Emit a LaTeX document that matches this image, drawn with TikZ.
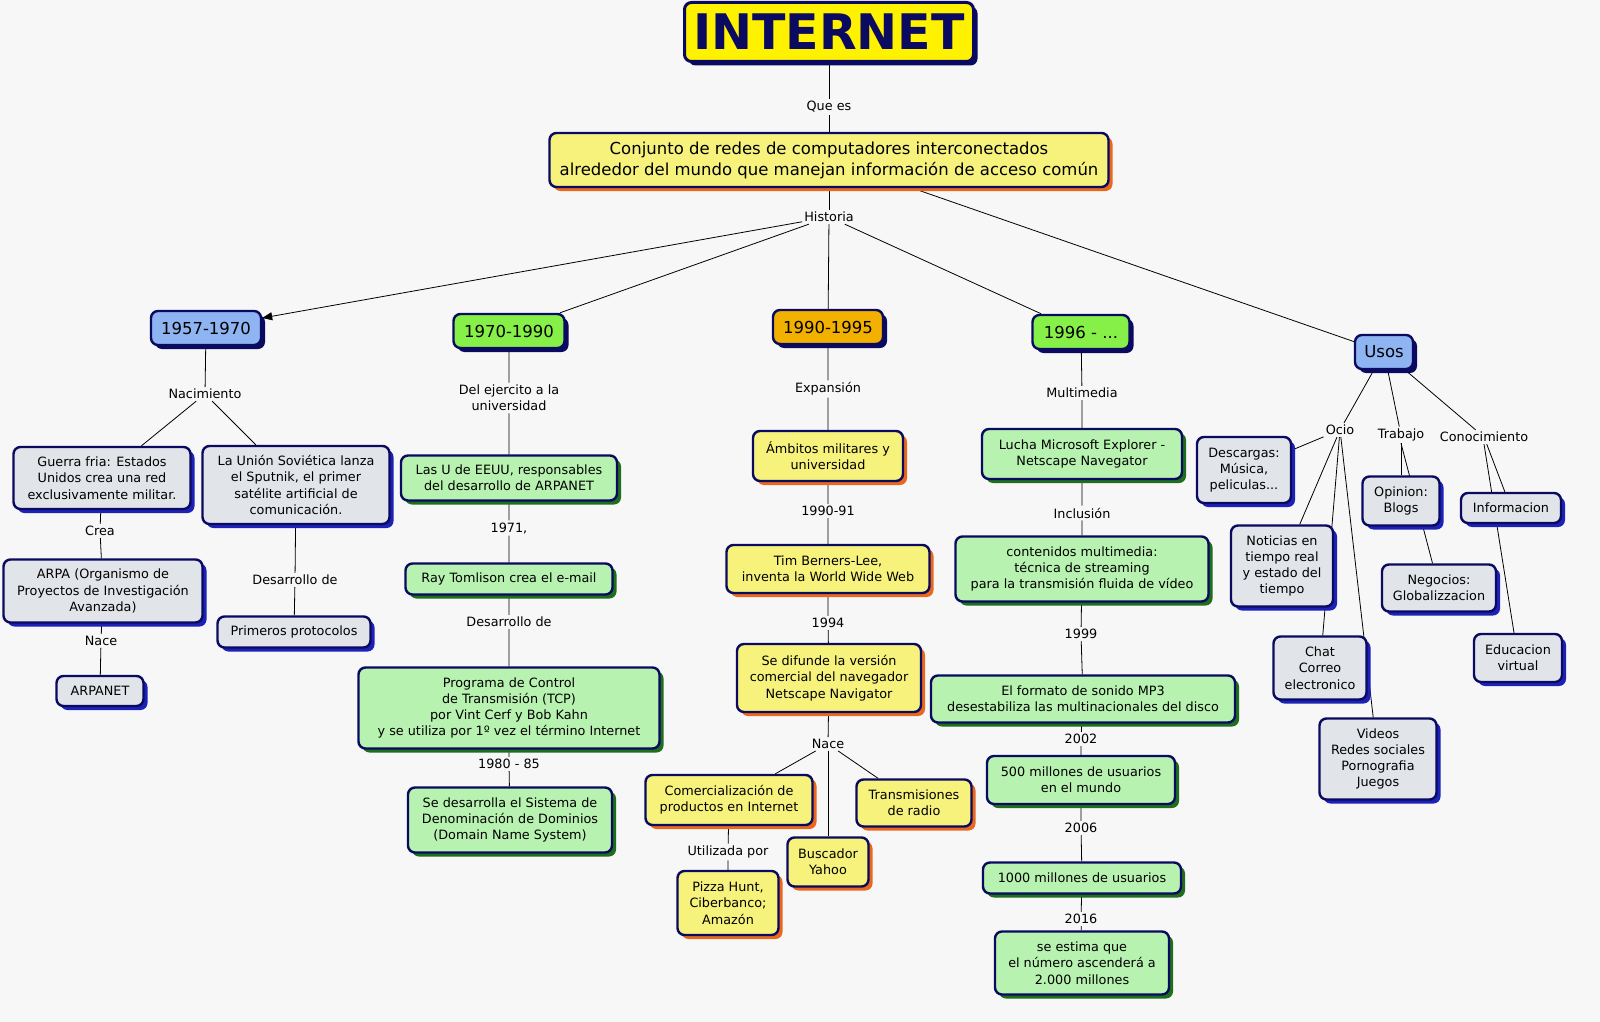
\documentclass[tikz,border=0pt]{standalone}
\usepackage{fontspec}
\setmainfont{DejaVu Sans}
\usetikzlibrary{shadows,arrows.meta}
\definecolor{navy}{HTML}{0A0A60}
\definecolor{gfill}{HTML}{E1E4E8}
\definecolor{gsh}{HTML}{1C22B8}
\definecolor{grfill}{HTML}{B8F2B0}
\definecolor{grsh}{HTML}{1E6E1E}
\definecolor{yfill}{HTML}{F6F27C}
\definecolor{ysh}{HTML}{E8681E}
\definecolor{bfill}{HTML}{8FB4F2}
\definecolor{lgreen}{HTML}{86F048}
\definecolor{orng}{HTML}{F2B000}
\pgfdeclarelayer{bgl}\pgfdeclarelayer{edges}
\pgfsetlayers{bgl,edges,main}
\tikzset{
 base/.style={draw=navy, line width=2.4pt, rounded corners=7pt, align=center, inner sep=2pt, font=\fontsize{12.8}{16.3}\selectfont, text=black},
 gbox/.style={base, fill=gfill, drop shadow={shadow xshift=4pt, shadow yshift=-4pt, fill=gsh, opacity=1}},
 grbox/.style={base, fill=grfill, drop shadow={shadow xshift=4pt, shadow yshift=-4pt, fill=grsh, opacity=1}},
 ybox/.style={base, fill=yfill, drop shadow={shadow xshift=4pt, shadow yshift=-4pt, fill=ysh, opacity=1}},
 yr/.style={base, font=\fontsize{16.5}{19}\selectfont, drop shadow={shadow xshift=4pt, shadow yshift=-4pt, fill=navy, opacity=1}},
 lbl/.style={align=center, inner sep=2pt, font=\fontsize{12.8}{16.3}\selectfont},
 ln/.style={draw=black, line width=0.8pt},
}
\begin{document}
\begin{tikzpicture}[x=1pt,y=-1pt]
\begin{pgfonlayer}{bgl}
\fill[white!97!black] (0,0) rectangle (1600,1022);
\end{pgfonlayer}
\useasboundingbox (0,0) rectangle (1600,1022);
% title
\node[base, fill=yellow, line width=3pt, font=\fontsize{49}{52}\selectfont\bfseries, text=navy, minimum width=289, minimum height=59, drop shadow={shadow xshift=4pt, shadow yshift=-4pt, fill=navy, opacity=1}] (title) at (829,32) {INTERNET};
\node[lbl] (quees) at (829,107) {Que es};
\node[ybox, font=\fontsize{16.5}{21}\selectfont, minimum width=559, minimum height=54] (def) at (829,160) {Conjunto de redes de computadores interconectados\\alrededor del mundo que manejan información de acceso común};
\node[lbl] (hist) at (829,217) {Historia};
% years
\node[yr, fill=bfill, minimum width=110, minimum height=34] (y1) at (206,328) {1957-1970};
\node[yr, fill=lgreen, minimum width=111, minimum height=34] (y2) at (509,331) {1970-1990};
\node[yr, fill=orng, minimum width=110, minimum height=34] (y3) at (828,327) {1990-1995};
\node[yr, fill=lgreen, minimum width=97, minimum height=34] (y4) at (1081,332) {1996 - ...};
\node[yr, fill=bfill, minimum width=58, minimum height=34] (y5) at (1384,352) {Usos};
% col 1
\node[lbl] (nac) at (205,394) {Nacimiento};
\node[gbox, minimum width=177, minimum height=62] (guerra) at (102,478) {Guerra fria: Estados\\Unidos crea una red\\exclusivamente militar.};
\node[gbox, minimum width=187, minimum height=78] (sput) at (296,485) {La Unión Soviética lanza\\el Sputnik, el primer\\satélite artificial de\\comunicación.};
\node[lbl] (crea) at (100,531) {Crea};
\node[gbox, minimum width=199, minimum height=63] (arpa) at (103,591) {ARPA (Organismo de\\Proyectos de Investigación\\Avanzada)};
\node[lbl] (nace1) at (101,641) {Nace};
\node[gbox, minimum width=87, minimum height=30] (arpanet) at (100,691) {ARPANET};
\node[lbl] (des1) at (295,580) {Desarrollo de};
\node[gbox, minimum width=153, minimum height=31] (prot) at (294,632) {Primeros protocolos};
% col 2
\node[lbl] (ejer) at (509,398) {Del ejercito a la\\universidad};
\node[grbox, minimum width=216, minimum height=45] (lasu) at (509,478) {Las U de EEUU, responsables\\del desarrollo de ARPANET};
\node[lbl] (l1971) at (509,528) {1971,};
\node[grbox, minimum width=207, minimum height=31] (ray) at (509,579) {Ray Tomlison crea el e-mail};
\node[lbl] (des2) at (509,622) {Desarrollo de};
\node[grbox, minimum width=301, minimum height=81] (tcp) at (509,708) {Programa de Control\\de Transmisión (TCP)\\por Vint Cerf y Bob Kahn\\y se utiliza por 1º vez el término Internet};
\node[lbl] (l1980) at (509,764) {1980 - 85};
\node[grbox, minimum width=204, minimum height=65] (dns) at (510,820) {Se desarrolla el Sistema de\\Denominación de Dominios\\(Domain Name System)};
% col 3
\node[lbl] (exp) at (828,389) {Expansión};
\node[ybox, minimum width=150, minimum height=50] (amb) at (828,456) {Ámbitos militares y\\universidad};
\node[lbl] (l9091) at (828,511) {1990-91};
\node[ybox, minimum width=203, minimum height=48] (tim) at (828,569) {Tim Berners-Lee,\\inventa la World Wide Web};
\node[lbl] (l1994) at (828,623) {1994};
\node[ybox, minimum width=184, minimum height=68] (difu) at (829,678) {Se difunde la versión\\comercial del navegador\\Netscape Navigator};
\node[lbl] (nace3) at (828,744) {Nace};
\node[ybox, minimum width=167, minimum height=50] (com) at (729,800) {Comercialización de\\productos en Internet};
\node[ybox, minimum width=81, minimum height=49] (yahoo) at (828,862) {Buscador\\Yahoo};
\node[ybox, minimum width=115, minimum height=47] (radio) at (914,803) {Transmisiones\\de radio};
\node[lbl] (util) at (728,852) {Utilizada por};
\node[ybox, minimum width=101, minimum height=64] (pizza) at (728,903) {Pizza Hunt,\\Ciberbanco;\\Amazón};
% col 4
\node[lbl] (mult) at (1082,393) {Multimedia};
\node[grbox, minimum width=200, minimum height=50] (lucha) at (1082,454) {Lucha Microsoft Explorer -\\Netscape Navegator};
\node[lbl] (incl) at (1082,513) {Inclusión};
\node[grbox, minimum width=253, minimum height=65] (cont) at (1082,569) {contenidos multimedia:\\técnica de streaming\\para la transmisión fluida de vídeo};
\node[lbl] (l1999) at (1081,634) {1999};
\node[grbox, minimum width=304, minimum height=47] (mp3) at (1083,699) {El formato de sonido MP3\\desestabiliza las multinacionales del disco};
\node[lbl] (l2002) at (1081,739) {2002};
\node[grbox, minimum width=188, minimum height=48] (m500) at (1081,780) {500 millones de usuarios\\en el mundo};
\node[lbl] (l2006) at (1081,828) {2006};
\node[grbox, minimum width=198, minimum height=31] (m1000) at (1082,878) {1000 millones de usuarios};
\node[lbl] (l2016) at (1081,919) {2016};
\node[grbox, minimum width=174, minimum height=63] (est) at (1082,963) {se estima que\\el número ascenderá a\\2.000 millones};
% col 5
\node[lbl] (ocio) at (1340,430) {Ocio};
\node[lbl] (trab) at (1401,435) {Trabajo};
\node[lbl] (cono) at (1484,437) {Conocimiento};
\node[gbox, minimum width=94, minimum height=66] (desc) at (1244,470) {Descargas:\\Música,\\peliculas...};
\node[gbox, minimum width=102, minimum height=81] (noti) at (1282,566) {Noticias en\\tiempo real\\y estado del\\tiempo};
\node[gbox, minimum width=93, minimum height=63] (chat) at (1320,668) {Chat\\Correo\\electronico};
\node[gbox, minimum width=117, minimum height=81] (vid) at (1378,759) {Videos\\Redes sociales\\Pornografia\\Juegos};
\node[gbox, minimum width=77, minimum height=49] (opi) at (1401,501) {Opinion:\\Blogs};
\node[gbox, minimum width=114, minimum height=47] (neg) at (1439,588) {Negocios:\\Globalizzacion};
\node[gbox, minimum width=100, minimum height=30] (info) at (1511,508) {Informacion};
\node[gbox, minimum width=88, minimum height=48] (edu) at (1518,658) {Educacion\\virtual};
% edges
\begin{pgfonlayer}{edges}
\draw[ln] (title) -- (quees) -- (def) -- (hist);
\draw[ln, -{Triangle[length=10pt,width=8pt]}] (hist) -- (y1);
\draw[ln] (hist) -- (y2);
\draw[ln] (hist) -- (y3);
\draw[ln] (hist) -- (y4);
\draw[ln] (915,189) -- (y5);
\draw[ln] (y1) -- (nac);
\draw[ln] (nac) -- (guerra);
\draw[ln] (nac) -- (sput);
\draw[ln] (guerra) -- (crea) -- (arpa) -- (nace1) -- (arpanet);
\draw[ln] (sput) -- (des1) -- (prot);
\draw[ln] (y2) -- (ejer) -- (lasu) -- (l1971) -- (ray) -- (des2) -- (tcp) -- (l1980) -- (dns);
\draw[ln] (y3) -- (exp) -- (amb) -- (l9091) -- (tim) -- (l1994) -- (difu) -- (nace3);
\draw[ln] (nace3) -- (com);
\draw[ln] (nace3) -- (yahoo);
\draw[ln] (nace3) -- (radio);
\draw[ln] (com) -- (util) -- (pizza);
\draw[ln] (y4) -- (mult) -- (lucha) -- (incl) -- (cont) -- (l1999) -- (mp3) -- (l2002) -- (m500) -- (l2006) -- (m1000) -- (l2016) -- (est);
\draw[ln] (y5) -- (ocio);
\draw[ln] (y5) -- (trab);
\draw[ln] (y5) -- (cono);
\draw[ln] (ocio) -- (desc);
\draw[ln] (ocio) -- (noti);
\draw[ln] (ocio) -- (chat);
\draw[ln] (ocio) -- (vid);
\draw[ln] (trab) -- (opi);
\draw[ln] (trab.south) -- (neg);
\draw[ln] (cono) -- (info);
\draw[ln] (cono.south) -- (edu);
\end{pgfonlayer}
\end{tikzpicture}
\end{document}
